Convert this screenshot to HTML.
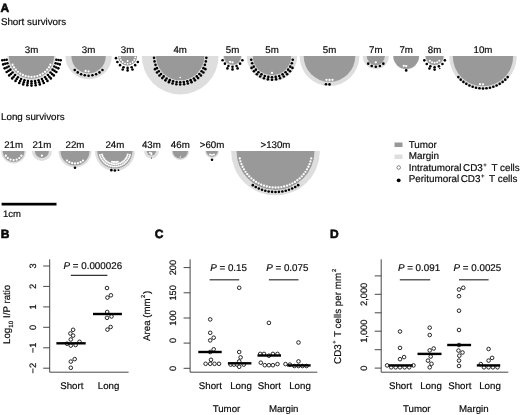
<!DOCTYPE html>
<html lang="en">
<head>
<meta charset="utf-8">
<title>Figure</title>
<style>
html,body{margin:0;padding:0;background:#fff;}
body{width:520px;height:415px;overflow:hidden;}
svg{display:block;}
svg text{text-rendering:geometricPrecision;font-family:"Liberation Sans", Arial, Helvetica, sans-serif;fill:#0a0a0a;stroke:#0a0a0a;stroke-width:0.18px;}
svg text.b{stroke-width:0.6px;}
</style>
</head>
<body>
<svg width="520" height="415" viewBox="0 0 520 415">
<rect width="520" height="415" fill="#ffffff"/>
<g id="panelA">
<text x="0.60" y="12.20" font-size="12" font-weight="bold" class="b">A</text>
<text x="0.90" y="24.70" font-size="9.8">Short survivors</text>
<text x="1.00" y="119.60" font-size="9.8">Long survivors</text>
<path d="M7.30,56.10 A24.20,24.20 0 0 0 55.70,56.10 Z" fill="#dedede"/>
<path d="M8.90,56.10 A22.60,22.60 0 0 0 54.10,56.10 Z" fill="#999999"/>
<circle cx="31.50" cy="76.90" r="1.15" fill="#ffffff"/>
<circle cx="28.54" cy="76.69" r="1.15" fill="#ffffff"/>
<circle cx="34.46" cy="76.69" r="1.15" fill="#ffffff"/>
<circle cx="25.64" cy="76.06" r="1.15" fill="#ffffff"/>
<circle cx="37.36" cy="76.06" r="1.15" fill="#ffffff"/>
<circle cx="22.86" cy="75.02" r="1.15" fill="#ffffff"/>
<circle cx="40.14" cy="75.02" r="1.15" fill="#ffffff"/>
<circle cx="20.26" cy="73.60" r="1.15" fill="#ffffff"/>
<circle cx="42.74" cy="73.60" r="1.15" fill="#ffffff"/>
<circle cx="17.88" cy="71.82" r="1.15" fill="#ffffff"/>
<circle cx="45.12" cy="71.82" r="1.15" fill="#ffffff"/>
<circle cx="15.78" cy="69.72" r="1.15" fill="#ffffff"/>
<circle cx="47.22" cy="69.72" r="1.15" fill="#ffffff"/>
<circle cx="14.00" cy="67.35" r="1.15" fill="#ffffff"/>
<circle cx="49.00" cy="67.35" r="1.15" fill="#ffffff"/>
<circle cx="12.58" cy="64.75" r="1.15" fill="#ffffff"/>
<circle cx="50.42" cy="64.75" r="1.15" fill="#ffffff"/>
<circle cx="31.50" cy="81.20" r="1.3" fill="#000000"/>
<circle cx="27.93" cy="80.94" r="1.3" fill="#000000"/>
<circle cx="35.07" cy="80.94" r="1.3" fill="#000000"/>
<circle cx="24.43" cy="80.18" r="1.3" fill="#000000"/>
<circle cx="38.57" cy="80.18" r="1.3" fill="#000000"/>
<circle cx="21.08" cy="78.93" r="1.3" fill="#000000"/>
<circle cx="41.92" cy="78.93" r="1.3" fill="#000000"/>
<circle cx="17.93" cy="77.22" r="1.3" fill="#000000"/>
<circle cx="45.07" cy="77.22" r="1.3" fill="#000000"/>
<circle cx="15.07" cy="75.07" r="1.3" fill="#000000"/>
<circle cx="47.93" cy="75.07" r="1.3" fill="#000000"/>
<circle cx="12.53" cy="72.54" r="1.3" fill="#000000"/>
<circle cx="50.47" cy="72.54" r="1.3" fill="#000000"/>
<circle cx="10.39" cy="69.67" r="1.3" fill="#000000"/>
<circle cx="52.61" cy="69.67" r="1.3" fill="#000000"/>
<circle cx="8.67" cy="66.53" r="1.3" fill="#000000"/>
<circle cx="54.33" cy="66.53" r="1.3" fill="#000000"/>
<circle cx="7.42" cy="63.18" r="1.3" fill="#000000"/>
<circle cx="55.58" cy="63.18" r="1.3" fill="#000000"/>
<circle cx="6.66" cy="59.68" r="1.3" fill="#000000"/>
<circle cx="56.34" cy="59.68" r="1.3" fill="#000000"/>
<circle cx="31.50" cy="83.40" r="1.3" fill="#000000"/>
<circle cx="27.62" cy="83.12" r="1.3" fill="#000000"/>
<circle cx="35.38" cy="83.12" r="1.3" fill="#000000"/>
<circle cx="23.81" cy="82.29" r="1.3" fill="#000000"/>
<circle cx="39.19" cy="82.29" r="1.3" fill="#000000"/>
<circle cx="20.16" cy="80.93" r="1.3" fill="#000000"/>
<circle cx="42.84" cy="80.93" r="1.3" fill="#000000"/>
<circle cx="16.74" cy="79.07" r="1.3" fill="#000000"/>
<circle cx="46.26" cy="79.07" r="1.3" fill="#000000"/>
<circle cx="13.63" cy="76.73" r="1.3" fill="#000000"/>
<circle cx="49.37" cy="76.73" r="1.3" fill="#000000"/>
<circle cx="10.87" cy="73.98" r="1.3" fill="#000000"/>
<circle cx="52.13" cy="73.98" r="1.3" fill="#000000"/>
<circle cx="8.54" cy="70.86" r="1.3" fill="#000000"/>
<circle cx="54.46" cy="70.86" r="1.3" fill="#000000"/>
<circle cx="6.67" cy="67.45" r="1.3" fill="#000000"/>
<circle cx="56.33" cy="67.45" r="1.3" fill="#000000"/>
<circle cx="5.31" cy="63.80" r="1.3" fill="#000000"/>
<circle cx="57.69" cy="63.80" r="1.3" fill="#000000"/>
<circle cx="4.48" cy="59.99" r="1.3" fill="#000000"/>
<circle cx="58.52" cy="59.99" r="1.3" fill="#000000"/>
<circle cx="31.50" cy="85.60" r="1.3" fill="#000000"/>
<circle cx="27.30" cy="85.30" r="1.3" fill="#000000"/>
<circle cx="35.70" cy="85.30" r="1.3" fill="#000000"/>
<circle cx="23.19" cy="84.41" r="1.3" fill="#000000"/>
<circle cx="39.81" cy="84.41" r="1.3" fill="#000000"/>
<circle cx="19.25" cy="82.94" r="1.3" fill="#000000"/>
<circle cx="43.75" cy="82.94" r="1.3" fill="#000000"/>
<circle cx="15.55" cy="80.92" r="1.3" fill="#000000"/>
<circle cx="47.45" cy="80.92" r="1.3" fill="#000000"/>
<circle cx="12.19" cy="78.40" r="1.3" fill="#000000"/>
<circle cx="50.81" cy="78.40" r="1.3" fill="#000000"/>
<circle cx="9.21" cy="75.42" r="1.3" fill="#000000"/>
<circle cx="53.79" cy="75.42" r="1.3" fill="#000000"/>
<circle cx="6.69" cy="72.05" r="1.3" fill="#000000"/>
<circle cx="56.31" cy="72.05" r="1.3" fill="#000000"/>
<circle cx="4.67" cy="68.36" r="1.3" fill="#000000"/>
<circle cx="58.33" cy="68.36" r="1.3" fill="#000000"/>
<circle cx="3.20" cy="64.42" r="1.3" fill="#000000"/>
<circle cx="59.80" cy="64.42" r="1.3" fill="#000000"/>
<circle cx="2.30" cy="60.31" r="1.3" fill="#000000"/>
<circle cx="60.70" cy="60.31" r="1.3" fill="#000000"/>
<text x="31.50" y="52.60" font-size="9.7" text-anchor="middle">3m</text>
<path d="M65.40,56.10 A23.20,23.20 0 0 0 111.80,56.10 Z" fill="#dedede"/>
<path d="M71.40,56.10 A17.20,17.20 0 0 0 105.80,56.10 Z" fill="#999999"/>
<circle cx="88.60" cy="71.30" r="1.15" fill="#ffffff"/>
<circle cx="85.63" cy="71.01" r="1.15" fill="#ffffff"/>
<circle cx="88.60" cy="75.70" r="1.3" fill="#000000"/>
<circle cx="84.78" cy="75.32" r="1.3" fill="#000000"/>
<circle cx="92.42" cy="75.32" r="1.3" fill="#000000"/>
<circle cx="81.10" cy="74.21" r="1.3" fill="#000000"/>
<circle cx="96.10" cy="74.21" r="1.3" fill="#000000"/>
<circle cx="77.71" cy="72.40" r="1.3" fill="#000000"/>
<circle cx="99.49" cy="72.40" r="1.3" fill="#000000"/>
<circle cx="74.74" cy="69.96" r="1.3" fill="#000000"/>
<circle cx="102.46" cy="69.96" r="1.3" fill="#000000"/>
<text x="88.60" y="52.60" font-size="9.7" text-anchor="middle">3m</text>
<path d="M118.00,56.10 A9.60,9.60 0 0 0 137.20,56.10 Z" fill="#dedede"/>
<path d="M118.10,56.10 A9.50,9.50 0 0 0 137.10,56.10 Z" fill="#999999"/>
<circle cx="127.60" cy="63.80" r="0.9" fill="#ffffff"/>
<circle cx="124.97" cy="63.34" r="0.9" fill="#ffffff"/>
<circle cx="130.23" cy="63.34" r="0.9" fill="#ffffff"/>
<circle cx="122.65" cy="62.00" r="0.9" fill="#ffffff"/>
<circle cx="132.55" cy="62.00" r="0.9" fill="#ffffff"/>
<circle cx="120.93" cy="59.95" r="0.9" fill="#ffffff"/>
<circle cx="134.27" cy="59.95" r="0.9" fill="#ffffff"/>
<circle cx="120.02" cy="57.44" r="0.9" fill="#ffffff"/>
<circle cx="135.18" cy="57.44" r="0.9" fill="#ffffff"/>
<circle cx="127.60" cy="61.10" r="1.0" fill="#ffffff"/>
<circle cx="127.60" cy="67.90" r="1.3" fill="#000000"/>
<circle cx="123.56" cy="67.19" r="1.3" fill="#000000"/>
<circle cx="131.64" cy="67.19" r="1.3" fill="#000000"/>
<circle cx="120.02" cy="65.14" r="1.3" fill="#000000"/>
<circle cx="135.18" cy="65.14" r="1.3" fill="#000000"/>
<circle cx="117.38" cy="62.00" r="1.3" fill="#000000"/>
<circle cx="137.82" cy="62.00" r="1.3" fill="#000000"/>
<circle cx="115.98" cy="58.15" r="1.3" fill="#000000"/>
<circle cx="127.60" cy="70.40" r="1.3" fill="#000000"/>
<circle cx="122.71" cy="69.54" r="1.3" fill="#000000"/>
<circle cx="132.49" cy="69.54" r="1.3" fill="#000000"/>
<text x="127.60" y="52.60" font-size="9.7" text-anchor="middle">3m</text>
<path d="M141.80,56.10 A38.40,38.40 0 0 0 218.60,56.10 Z" fill="#dedede"/>
<path d="M156.00,56.10 A24.20,24.20 0 0 0 204.40,56.10 Z" fill="#999999"/>
<circle cx="180.20" cy="77.50" r="0.8" fill="#ffffff"/>
<circle cx="180.20" cy="82.30" r="1.3" fill="#000000"/>
<circle cx="176.63" cy="82.06" r="1.3" fill="#000000"/>
<circle cx="183.77" cy="82.06" r="1.3" fill="#000000"/>
<circle cx="173.13" cy="81.33" r="1.3" fill="#000000"/>
<circle cx="187.27" cy="81.33" r="1.3" fill="#000000"/>
<circle cx="169.76" cy="80.13" r="1.3" fill="#000000"/>
<circle cx="190.64" cy="80.13" r="1.3" fill="#000000"/>
<circle cx="166.58" cy="78.48" r="1.3" fill="#000000"/>
<circle cx="193.82" cy="78.48" r="1.3" fill="#000000"/>
<circle cx="163.66" cy="76.42" r="1.3" fill="#000000"/>
<circle cx="196.74" cy="76.42" r="1.3" fill="#000000"/>
<circle cx="161.04" cy="73.98" r="1.3" fill="#000000"/>
<circle cx="199.36" cy="73.98" r="1.3" fill="#000000"/>
<circle cx="158.79" cy="71.20" r="1.3" fill="#000000"/>
<circle cx="201.61" cy="71.20" r="1.3" fill="#000000"/>
<circle cx="156.93" cy="68.14" r="1.3" fill="#000000"/>
<circle cx="203.47" cy="68.14" r="1.3" fill="#000000"/>
<circle cx="155.51" cy="64.86" r="1.3" fill="#000000"/>
<circle cx="204.89" cy="64.86" r="1.3" fill="#000000"/>
<circle cx="154.54" cy="61.41" r="1.3" fill="#000000"/>
<circle cx="205.86" cy="61.41" r="1.3" fill="#000000"/>
<circle cx="154.06" cy="57.87" r="1.3" fill="#000000"/>
<circle cx="206.34" cy="57.87" r="1.3" fill="#000000"/>
<circle cx="180.20" cy="84.50" r="1.3" fill="#000000"/>
<circle cx="176.33" cy="84.24" r="1.3" fill="#000000"/>
<circle cx="184.07" cy="84.24" r="1.3" fill="#000000"/>
<circle cx="172.53" cy="83.45" r="1.3" fill="#000000"/>
<circle cx="187.87" cy="83.45" r="1.3" fill="#000000"/>
<circle cx="168.88" cy="82.15" r="1.3" fill="#000000"/>
<circle cx="191.52" cy="82.15" r="1.3" fill="#000000"/>
<circle cx="165.44" cy="80.36" r="1.3" fill="#000000"/>
<circle cx="194.96" cy="80.36" r="1.3" fill="#000000"/>
<circle cx="162.27" cy="78.12" r="1.3" fill="#000000"/>
<circle cx="198.13" cy="78.12" r="1.3" fill="#000000"/>
<circle cx="159.44" cy="75.48" r="1.3" fill="#000000"/>
<circle cx="200.96" cy="75.48" r="1.3" fill="#000000"/>
<circle cx="156.99" cy="72.47" r="1.3" fill="#000000"/>
<circle cx="203.41" cy="72.47" r="1.3" fill="#000000"/>
<circle cx="154.98" cy="69.15" r="1.3" fill="#000000"/>
<circle cx="205.42" cy="69.15" r="1.3" fill="#000000"/>
<text x="180.20" y="52.60" font-size="9.7" text-anchor="middle">4m</text>
<path d="M222.90,56.10 A9.60,9.60 0 0 0 242.10,56.10 Z" fill="#dedede"/>
<path d="M223.80,56.10 A8.70,8.70 0 0 0 241.20,56.10 Z" fill="#999999"/>
<circle cx="232.50" cy="62.30" r="1.15" fill="#ffffff"/>
<circle cx="230.13" cy="61.83" r="1.15" fill="#ffffff"/>
<circle cx="232.50" cy="66.80" r="1.3" fill="#000000"/>
<circle cx="228.41" cy="65.99" r="1.3" fill="#000000"/>
<circle cx="236.59" cy="65.99" r="1.3" fill="#000000"/>
<circle cx="224.93" cy="63.67" r="1.3" fill="#000000"/>
<circle cx="240.07" cy="63.67" r="1.3" fill="#000000"/>
<circle cx="222.61" cy="60.19" r="1.3" fill="#000000"/>
<circle cx="242.39" cy="60.19" r="1.3" fill="#000000"/>
<circle cx="232.50" cy="69.40" r="1.3" fill="#000000"/>
<circle cx="227.41" cy="68.39" r="1.3" fill="#000000"/>
<circle cx="237.59" cy="68.39" r="1.3" fill="#000000"/>
<text x="232.50" y="52.60" font-size="9.7" text-anchor="middle">5m</text>
<path d="M246.80,56.10 A25.20,25.20 0 0 0 297.20,56.10 Z" fill="#dedede"/>
<path d="M252.80,56.10 A19.20,19.20 0 0 0 291.20,56.10 Z" fill="#999999"/>
<circle cx="272.00" cy="72.90" r="1.15" fill="#ffffff"/>
<circle cx="272.00" cy="77.20" r="1.3" fill="#000000"/>
<circle cx="268.34" cy="76.88" r="1.3" fill="#000000"/>
<circle cx="275.66" cy="76.88" r="1.3" fill="#000000"/>
<circle cx="264.78" cy="75.93" r="1.3" fill="#000000"/>
<circle cx="279.22" cy="75.93" r="1.3" fill="#000000"/>
<circle cx="261.45" cy="74.37" r="1.3" fill="#000000"/>
<circle cx="282.55" cy="74.37" r="1.3" fill="#000000"/>
<circle cx="258.44" cy="72.26" r="1.3" fill="#000000"/>
<circle cx="285.56" cy="72.26" r="1.3" fill="#000000"/>
<circle cx="255.84" cy="69.66" r="1.3" fill="#000000"/>
<circle cx="288.16" cy="69.66" r="1.3" fill="#000000"/>
<circle cx="253.73" cy="66.65" r="1.3" fill="#000000"/>
<circle cx="290.27" cy="66.65" r="1.3" fill="#000000"/>
<circle cx="252.17" cy="63.32" r="1.3" fill="#000000"/>
<circle cx="291.83" cy="63.32" r="1.3" fill="#000000"/>
<circle cx="251.22" cy="59.76" r="1.3" fill="#000000"/>
<circle cx="292.78" cy="59.76" r="1.3" fill="#000000"/>
<circle cx="272.00" cy="79.70" r="1.3" fill="#000000"/>
<circle cx="267.90" cy="79.34" r="1.3" fill="#000000"/>
<circle cx="276.10" cy="79.34" r="1.3" fill="#000000"/>
<circle cx="263.93" cy="78.28" r="1.3" fill="#000000"/>
<circle cx="280.07" cy="78.28" r="1.3" fill="#000000"/>
<circle cx="260.20" cy="76.54" r="1.3" fill="#000000"/>
<circle cx="283.80" cy="76.54" r="1.3" fill="#000000"/>
<circle cx="256.83" cy="74.18" r="1.3" fill="#000000"/>
<circle cx="287.17" cy="74.18" r="1.3" fill="#000000"/>
<circle cx="253.92" cy="71.27" r="1.3" fill="#000000"/>
<circle cx="290.08" cy="71.27" r="1.3" fill="#000000"/>
<circle cx="251.56" cy="67.90" r="1.3" fill="#000000"/>
<circle cx="292.44" cy="67.90" r="1.3" fill="#000000"/>
<text x="272.00" y="52.60" font-size="9.7" text-anchor="middle">5m</text>
<path d="M299.60,56.10 A29.90,29.90 0 0 0 359.40,56.10 Z" fill="#dedede"/>
<path d="M303.70,56.10 A25.80,25.80 0 0 0 355.30,56.10 Z" fill="#999999"/>
<circle cx="329.50" cy="80.00" r="1.15" fill="#ffffff"/>
<circle cx="326.50" cy="79.81" r="1.15" fill="#ffffff"/>
<circle cx="332.50" cy="79.81" r="1.15" fill="#ffffff"/>
<circle cx="329.50" cy="84.40" r="1.3" fill="#000000"/>
<circle cx="325.95" cy="84.18" r="1.3" fill="#000000"/>
<text x="329.50" y="52.60" font-size="9.7" text-anchor="middle">5m</text>
<path d="M362.70,56.10 A13.10,13.10 0 0 0 388.90,56.10 Z" fill="#dedede"/>
<path d="M366.70,56.10 A9.10,9.10 0 0 0 384.90,56.10 Z" fill="#999999"/>
<circle cx="375.80" cy="62.30" r="1.15" fill="#ffffff"/>
<circle cx="375.80" cy="66.80" r="1.3" fill="#000000"/>
<circle cx="371.71" cy="65.99" r="1.3" fill="#000000"/>
<circle cx="379.89" cy="65.99" r="1.3" fill="#000000"/>
<circle cx="368.23" cy="63.67" r="1.3" fill="#000000"/>
<circle cx="383.37" cy="63.67" r="1.3" fill="#000000"/>
<text x="375.80" y="52.60" font-size="9.7" text-anchor="middle">7m</text>
<path d="M393.00,56.10 A13.20,13.20 0 0 0 419.40,56.10 Z" fill="#dedede"/>
<path d="M393.40,56.10 A12.80,12.80 0 0 0 419.00,56.10 Z" fill="#999999"/>
<circle cx="406.20" cy="66.10" r="1.15" fill="#ffffff"/>
<circle cx="403.78" cy="65.80" r="1.15" fill="#ffffff"/>
<circle cx="406.20" cy="70.40" r="1.3" fill="#000000"/>
<text x="406.20" y="52.60" font-size="9.7" text-anchor="middle">7m</text>
<path d="M424.80,56.10 A9.80,9.80 0 0 0 444.40,56.10 Z" fill="#dedede"/>
<path d="M425.60,56.10 A9.00,9.00 0 0 0 443.60,56.10 Z" fill="#999999"/>
<circle cx="434.60" cy="62.80" r="1.0" fill="#ffffff"/>
<circle cx="432.04" cy="62.29" r="1.0" fill="#ffffff"/>
<circle cx="437.16" cy="62.29" r="1.0" fill="#ffffff"/>
<circle cx="429.86" cy="60.84" r="1.0" fill="#ffffff"/>
<circle cx="439.34" cy="60.84" r="1.0" fill="#ffffff"/>
<circle cx="434.60" cy="67.20" r="1.3" fill="#000000"/>
<circle cx="430.35" cy="66.36" r="1.3" fill="#000000"/>
<circle cx="438.85" cy="66.36" r="1.3" fill="#000000"/>
<circle cx="426.75" cy="63.95" r="1.3" fill="#000000"/>
<circle cx="442.45" cy="63.95" r="1.3" fill="#000000"/>
<circle cx="424.34" cy="60.35" r="1.3" fill="#000000"/>
<circle cx="444.86" cy="60.35" r="1.3" fill="#000000"/>
<circle cx="434.60" cy="69.60" r="1.3" fill="#000000"/>
<circle cx="429.43" cy="68.57" r="1.3" fill="#000000"/>
<circle cx="439.77" cy="68.57" r="0.7" fill="#000000"/>
<text x="434.60" y="52.60" font-size="9.7" text-anchor="middle">8m</text>
<path d="M449.20,56.10 A33.80,33.80 0 0 0 516.80,56.10 Z" fill="#dedede"/>
<path d="M452.80,56.10 A30.20,30.20 0 0 0 513.20,56.10 Z" fill="#999999"/>
<circle cx="483.00" cy="84.30" r="1.15" fill="#ffffff"/>
<circle cx="479.95" cy="84.14" r="1.15" fill="#ffffff"/>
<circle cx="483.00" cy="88.50" r="1.3" fill="#000000"/>
<circle cx="479.50" cy="88.31" r="1.3" fill="#000000"/>
<circle cx="486.50" cy="88.31" r="1.3" fill="#000000"/>
<circle cx="476.04" cy="87.74" r="1.3" fill="#000000"/>
<circle cx="489.96" cy="87.74" r="1.3" fill="#000000"/>
<circle cx="472.67" cy="86.81" r="1.3" fill="#000000"/>
<circle cx="493.33" cy="86.81" r="1.3" fill="#000000"/>
<circle cx="469.41" cy="85.51" r="1.3" fill="#000000"/>
<circle cx="496.59" cy="85.51" r="1.3" fill="#000000"/>
<circle cx="466.31" cy="83.87" r="1.3" fill="#000000"/>
<circle cx="499.69" cy="83.87" r="1.3" fill="#000000"/>
<circle cx="463.41" cy="81.91" r="1.3" fill="#000000"/>
<circle cx="502.59" cy="81.91" r="1.3" fill="#000000"/>
<circle cx="460.74" cy="79.64" r="1.3" fill="#000000"/>
<circle cx="505.26" cy="79.64" r="1.3" fill="#000000"/>
<circle cx="458.33" cy="77.10" r="1.3" fill="#000000"/>
<circle cx="507.67" cy="77.10" r="1.3" fill="#000000"/>
<text x="483.00" y="52.60" font-size="9.7" text-anchor="middle">10m</text>
<path d="M1.10,151.00 A12.50,12.50 0 0 0 26.10,151.00 Z" fill="#dedede"/>
<path d="M2.80,151.00 A10.80,10.80 0 0 0 24.40,151.00 Z" fill="#999999"/>
<circle cx="13.60" cy="160.10" r="1.15" fill="#ffffff"/>
<circle cx="10.56" cy="159.58" r="1.15" fill="#ffffff"/>
<circle cx="16.64" cy="159.58" r="1.15" fill="#ffffff"/>
<circle cx="7.87" cy="158.07" r="1.15" fill="#ffffff"/>
<circle cx="19.33" cy="158.07" r="1.15" fill="#ffffff"/>
<circle cx="5.84" cy="155.75" r="1.15" fill="#ffffff"/>
<circle cx="21.36" cy="155.75" r="1.15" fill="#ffffff"/>
<text x="13.60" y="147.80" font-size="9.7" text-anchor="middle">21m</text>
<path d="M31.90,151.00 A10.00,10.00 0 0 0 51.90,151.00 Z" fill="#dedede"/>
<path d="M34.90,151.00 A7.00,7.00 0 0 0 48.90,151.00 Z" fill="#999999"/>
<circle cx="41.90" cy="155.60" r="1.15" fill="#ffffff"/>
<text x="41.90" y="147.80" font-size="9.7" text-anchor="middle">21m</text>
<path d="M58.40,151.00 A16.60,16.60 0 0 0 91.60,151.00 Z" fill="#dedede"/>
<path d="M60.50,151.00 A14.50,14.50 0 0 0 89.50,151.00 Z" fill="#999999"/>
<circle cx="75.00" cy="163.50" r="1.15" fill="#ffffff"/>
<circle cx="72.12" cy="163.16" r="1.15" fill="#ffffff"/>
<circle cx="77.88" cy="163.16" r="1.15" fill="#ffffff"/>
<circle cx="69.40" cy="162.18" r="1.15" fill="#ffffff"/>
<circle cx="80.60" cy="162.18" r="1.15" fill="#ffffff"/>
<circle cx="66.98" cy="160.59" r="1.15" fill="#ffffff"/>
<circle cx="83.02" cy="160.59" r="1.15" fill="#ffffff"/>
<circle cx="75.00" cy="167.70" r="1.3" fill="#000000"/>
<text x="75.00" y="147.80" font-size="9.7" text-anchor="middle">22m</text>
<path d="M94.90,151.00 A20.00,20.00 0 0 0 134.90,151.00 Z" fill="#dedede"/>
<path d="M97.30,151.00 A17.60,17.60 0 0 0 132.50,151.00 Z" fill="#999999"/>
<circle cx="114.90" cy="166.60" r="1.02" fill="#ffffff"/>
<circle cx="112.86" cy="166.47" r="1.02" fill="#ffffff"/>
<circle cx="116.94" cy="166.47" r="1.02" fill="#ffffff"/>
<circle cx="110.86" cy="166.07" r="1.02" fill="#ffffff"/>
<circle cx="118.94" cy="166.07" r="1.02" fill="#ffffff"/>
<circle cx="108.93" cy="165.41" r="1.02" fill="#ffffff"/>
<circle cx="120.87" cy="165.41" r="1.02" fill="#ffffff"/>
<circle cx="107.10" cy="164.51" r="1.02" fill="#ffffff"/>
<circle cx="122.70" cy="164.51" r="1.02" fill="#ffffff"/>
<circle cx="105.40" cy="163.38" r="1.02" fill="#ffffff"/>
<circle cx="124.40" cy="163.38" r="1.02" fill="#ffffff"/>
<circle cx="103.87" cy="162.03" r="1.02" fill="#ffffff"/>
<circle cx="125.93" cy="162.03" r="1.02" fill="#ffffff"/>
<circle cx="102.52" cy="160.50" r="1.02" fill="#ffffff"/>
<circle cx="127.28" cy="160.50" r="1.02" fill="#ffffff"/>
<circle cx="101.39" cy="158.80" r="1.02" fill="#ffffff"/>
<circle cx="128.41" cy="158.80" r="1.02" fill="#ffffff"/>
<circle cx="100.49" cy="156.97" r="1.02" fill="#ffffff"/>
<circle cx="129.31" cy="156.97" r="1.02" fill="#ffffff"/>
<circle cx="99.83" cy="155.04" r="1.02" fill="#ffffff"/>
<circle cx="129.97" cy="155.04" r="1.02" fill="#ffffff"/>
<circle cx="114.90" cy="164.30" r="1.02" fill="#ffffff"/>
<circle cx="113.16" cy="164.19" r="1.02" fill="#ffffff"/>
<circle cx="116.64" cy="164.19" r="1.02" fill="#ffffff"/>
<circle cx="111.46" cy="163.85" r="1.02" fill="#ffffff"/>
<circle cx="118.34" cy="163.85" r="1.02" fill="#ffffff"/>
<circle cx="109.81" cy="163.29" r="1.02" fill="#ffffff"/>
<circle cx="119.99" cy="163.29" r="1.02" fill="#ffffff"/>
<circle cx="108.25" cy="162.52" r="1.02" fill="#ffffff"/>
<circle cx="121.55" cy="162.52" r="1.02" fill="#ffffff"/>
<circle cx="106.80" cy="161.55" r="1.02" fill="#ffffff"/>
<circle cx="123.00" cy="161.55" r="1.02" fill="#ffffff"/>
<circle cx="105.50" cy="160.40" r="1.02" fill="#ffffff"/>
<circle cx="124.30" cy="160.40" r="1.02" fill="#ffffff"/>
<circle cx="104.35" cy="159.10" r="1.02" fill="#ffffff"/>
<circle cx="125.45" cy="159.10" r="1.02" fill="#ffffff"/>
<circle cx="103.38" cy="157.65" r="1.02" fill="#ffffff"/>
<circle cx="126.42" cy="157.65" r="1.02" fill="#ffffff"/>
<circle cx="102.61" cy="156.09" r="1.02" fill="#ffffff"/>
<circle cx="127.19" cy="156.09" r="1.02" fill="#ffffff"/>
<circle cx="102.05" cy="154.44" r="1.02" fill="#ffffff"/>
<circle cx="127.75" cy="154.44" r="1.02" fill="#ffffff"/>
<circle cx="114.90" cy="162.10" r="1.02" fill="#ffffff"/>
<circle cx="113.45" cy="162.01" r="1.02" fill="#ffffff"/>
<circle cx="116.35" cy="162.01" r="1.02" fill="#ffffff"/>
<circle cx="112.03" cy="161.72" r="1.02" fill="#ffffff"/>
<circle cx="117.77" cy="161.72" r="1.02" fill="#ffffff"/>
<circle cx="114.90" cy="170.50" r="1.3" fill="#000000"/>
<circle cx="111.35" cy="170.17" r="1.3" fill="#000000"/>
<circle cx="118.45" cy="170.17" r="0.9" fill="#000000"/>
<text x="114.90" y="147.80" font-size="9.7" text-anchor="middle">24m</text>
<path d="M144.00,151.00 A7.40,7.40 0 0 0 158.80,151.00 Z" fill="#dedede"/>
<path d="M146.80,151.00 A4.60,4.60 0 0 0 156.00,151.00 Z" fill="#999999"/>
<circle cx="151.40" cy="153.30" r="1.0" fill="#ffffff"/>
<circle cx="149.98" cy="152.81" r="1.0" fill="#ffffff"/>
<circle cx="151.40" cy="154.30" r="0.9" fill="#ffffff"/>
<circle cx="151.40" cy="157.90" r="0.5" fill="#000000"/>
<text x="151.40" y="147.80" font-size="9.7" text-anchor="middle">43m</text>
<path d="M171.30,151.00 A9.00,9.00 0 0 0 189.30,151.00 Z" fill="#dedede"/>
<path d="M172.70,151.00 A7.60,7.60 0 0 0 187.90,151.00 Z" fill="#999999"/>
<circle cx="180.30" cy="156.90" r="0.7" fill="#ffffff"/>
<text x="180.30" y="147.80" font-size="9.7" text-anchor="middle">46m</text>
<path d="M205.00,151.00 A7.00,7.00 0 0 0 219.00,151.00 Z" fill="#dedede"/>
<path d="M206.20,151.00 A5.80,5.80 0 0 0 217.80,151.00 Z" fill="#999999"/>
<circle cx="212.00" cy="154.90" r="1.0" fill="#ffffff"/>
<circle cx="210.05" cy="154.38" r="1.0" fill="#ffffff"/>
<circle cx="213.95" cy="154.38" r="1.0" fill="#ffffff"/>
<circle cx="212.00" cy="159.70" r="1.3" fill="#000000"/>
<text x="212.00" y="147.80" font-size="9.7" text-anchor="middle">&gt;60m</text>
<path d="M231.10,151.00 A44.40,44.40 0 0 0 319.90,151.00 Z" fill="#dedede"/>
<path d="M236.50,151.00 A39.00,39.00 0 0 0 314.50,151.00 Z" fill="#999999"/>
<circle cx="275.50" cy="187.50" r="1.15" fill="#ffffff"/>
<circle cx="272.57" cy="187.38" r="1.15" fill="#ffffff"/>
<circle cx="278.43" cy="187.38" r="1.15" fill="#ffffff"/>
<circle cx="269.66" cy="187.03" r="1.15" fill="#ffffff"/>
<circle cx="281.34" cy="187.03" r="1.15" fill="#ffffff"/>
<circle cx="266.79" cy="186.45" r="1.15" fill="#ffffff"/>
<circle cx="284.21" cy="186.45" r="1.15" fill="#ffffff"/>
<circle cx="263.98" cy="185.63" r="1.15" fill="#ffffff"/>
<circle cx="287.02" cy="185.63" r="1.15" fill="#ffffff"/>
<circle cx="261.24" cy="184.60" r="1.15" fill="#ffffff"/>
<circle cx="289.76" cy="184.60" r="1.15" fill="#ffffff"/>
<circle cx="258.59" cy="183.35" r="1.15" fill="#ffffff"/>
<circle cx="292.41" cy="183.35" r="1.15" fill="#ffffff"/>
<circle cx="256.05" cy="181.89" r="1.15" fill="#ffffff"/>
<circle cx="294.95" cy="181.89" r="1.15" fill="#ffffff"/>
<circle cx="253.64" cy="180.23" r="1.15" fill="#ffffff"/>
<circle cx="297.36" cy="180.23" r="1.15" fill="#ffffff"/>
<circle cx="251.36" cy="178.38" r="1.15" fill="#ffffff"/>
<circle cx="299.64" cy="178.38" r="1.15" fill="#ffffff"/>
<circle cx="249.24" cy="176.36" r="1.15" fill="#ffffff"/>
<circle cx="301.76" cy="176.36" r="1.15" fill="#ffffff"/>
<circle cx="247.30" cy="174.17" r="1.15" fill="#ffffff"/>
<circle cx="303.70" cy="174.17" r="1.15" fill="#ffffff"/>
<circle cx="245.53" cy="171.83" r="1.15" fill="#ffffff"/>
<circle cx="305.47" cy="171.83" r="1.15" fill="#ffffff"/>
<circle cx="243.95" cy="169.36" r="1.15" fill="#ffffff"/>
<circle cx="307.05" cy="169.36" r="1.15" fill="#ffffff"/>
<circle cx="242.58" cy="166.77" r="1.15" fill="#ffffff"/>
<circle cx="308.42" cy="166.77" r="1.15" fill="#ffffff"/>
<circle cx="241.42" cy="164.08" r="1.15" fill="#ffffff"/>
<circle cx="309.58" cy="164.08" r="1.15" fill="#ffffff"/>
<circle cx="240.49" cy="161.31" r="1.15" fill="#ffffff"/>
<circle cx="310.51" cy="161.31" r="1.15" fill="#ffffff"/>
<circle cx="239.77" cy="158.46" r="1.15" fill="#ffffff"/>
<circle cx="311.23" cy="158.46" r="1.15" fill="#ffffff"/>
<circle cx="275.50" cy="192.00" r="1.3" fill="#000000"/>
<circle cx="272.07" cy="191.86" r="1.3" fill="#000000"/>
<circle cx="278.93" cy="191.86" r="1.3" fill="#000000"/>
<circle cx="268.66" cy="191.43" r="1.3" fill="#000000"/>
<circle cx="282.34" cy="191.43" r="1.3" fill="#000000"/>
<circle cx="265.30" cy="190.71" r="1.3" fill="#000000"/>
<circle cx="285.70" cy="190.71" r="1.3" fill="#000000"/>
<circle cx="262.02" cy="189.72" r="1.3" fill="#000000"/>
<circle cx="288.98" cy="189.72" r="1.3" fill="#000000"/>
<circle cx="258.82" cy="188.46" r="1.3" fill="#000000"/>
<circle cx="292.18" cy="188.46" r="1.3" fill="#000000"/>
<circle cx="255.75" cy="186.93" r="1.3" fill="#000000"/>
<circle cx="295.25" cy="186.93" r="1.3" fill="#000000"/>
<circle cx="252.81" cy="185.15" r="1.3" fill="#000000"/>
<circle cx="298.19" cy="185.15" r="1.3" fill="#000000"/>
<text x="275.50" y="147.80" font-size="9.7" text-anchor="middle">&gt;130m</text>
<rect x="1.6" y="202.8" width="54.9" height="2.7" fill="#000"/>
<text x="3.00" y="217.20" font-size="9.5">1cm</text>
<rect x="394.5" y="142.5" width="8" height="4.5" fill="#999999"/>
<rect x="394.5" y="154.5" width="8" height="4.5" fill="#dedede"/>
<circle cx="398.7" cy="167.5" r="1.8" fill="#fff" stroke="#666" stroke-width="0.8"/>
<circle cx="398.7" cy="180.3" r="1.9" fill="#000"/>
<text x="408.70" y="147.50" font-size="9.9">Tumor</text>
<text x="408.70" y="159.20" font-size="9.9">Margin</text>
<text x="408.70" y="170.90" font-size="9.9">Intratumoral</text>
<text x="463.00" y="170.90" font-size="9.9">CD3</text>
<text x="483.30" y="166.90" font-size="6">+</text>
<text x="491.40" y="170.90" font-size="9.9">T cells</text>
<text x="408.70" y="182.20" font-size="9.9">Peritumoral</text>
<text x="460.70" y="182.20" font-size="9.9">CD3</text>
<text x="481.00" y="178.20" font-size="6">+</text>
<text x="489.10" y="182.20" font-size="9.9">T cells</text>
</g>
<g id="panelB">
<text x="0.80" y="238.20" font-size="12" font-weight="bold" class="b">B</text>
<path d="M49.7,259.3 V372.2 H128.6" fill="none" stroke="#333333" stroke-width="0.9"/>
<line x1="43.2" y1="266.0" x2="49.7" y2="266.0" stroke="#333333" stroke-width="0.9"/>
<text x="35.70" y="265.95" font-size="9.3" text-anchor="middle" transform="rotate(-90 35.70 265.95)">3</text>
<line x1="43.2" y1="286.4" x2="49.7" y2="286.4" stroke="#333333" stroke-width="0.9"/>
<text x="35.70" y="286.40" font-size="9.3" text-anchor="middle" transform="rotate(-90 35.70 286.40)">2</text>
<line x1="43.2" y1="306.9" x2="49.7" y2="306.9" stroke="#333333" stroke-width="0.9"/>
<text x="35.70" y="306.85" font-size="9.3" text-anchor="middle" transform="rotate(-90 35.70 306.85)">1</text>
<line x1="43.2" y1="327.3" x2="49.7" y2="327.3" stroke="#333333" stroke-width="0.9"/>
<text x="35.70" y="327.30" font-size="9.3" text-anchor="middle" transform="rotate(-90 35.70 327.30)">0</text>
<line x1="43.2" y1="347.8" x2="49.7" y2="347.8" stroke="#333333" stroke-width="0.9"/>
<text x="35.70" y="347.75" font-size="9.3" text-anchor="middle" transform="rotate(-90 35.70 347.75)">−1</text>
<line x1="43.2" y1="368.2" x2="49.7" y2="368.2" stroke="#333333" stroke-width="0.9"/>
<text x="35.70" y="368.20" font-size="9.3" text-anchor="middle" transform="rotate(-90 35.70 368.20)">−2</text>
<text x="9.80" y="343.90" font-size="9.7" transform="rotate(-90 9.80 343.90)">Log<tspan font-size="6.2" dy="3.4">10</tspan><tspan dy="-3.4" dx="0.2"> I/P ratio</tspan></text>
<text x="63.50" y="269.30" font-size="9.8"><tspan font-style="italic">P</tspan> = 0.000026</text>
<line x1="70.8" y1="275.4" x2="107.4" y2="275.4" stroke="#333" stroke-width="1.2"/>
<circle cx="73.1" cy="329.8" r="1.8" fill="#fff" stroke="#111" stroke-width="0.9"/>
<circle cx="70.4" cy="333.5" r="1.8" fill="#fff" stroke="#111" stroke-width="0.9"/>
<circle cx="73.1" cy="335.6" r="1.8" fill="#fff" stroke="#111" stroke-width="0.9"/>
<circle cx="70.8" cy="339.5" r="1.8" fill="#fff" stroke="#111" stroke-width="0.9"/>
<circle cx="79.5" cy="341.8" r="1.8" fill="#fff" stroke="#111" stroke-width="0.9"/>
<circle cx="67.0" cy="343.7" r="1.8" fill="#fff" stroke="#111" stroke-width="0.9"/>
<circle cx="70.8" cy="345.6" r="1.8" fill="#fff" stroke="#111" stroke-width="0.9"/>
<circle cx="75.6" cy="345.0" r="1.8" fill="#fff" stroke="#111" stroke-width="0.9"/>
<circle cx="74.7" cy="359.1" r="1.8" fill="#fff" stroke="#111" stroke-width="0.9"/>
<circle cx="70.8" cy="361.6" r="1.8" fill="#fff" stroke="#111" stroke-width="0.9"/>
<circle cx="70.8" cy="367.8" r="1.8" fill="#fff" stroke="#111" stroke-width="0.9"/>
<circle cx="107.0" cy="288.0" r="1.8" fill="#fff" stroke="#111" stroke-width="0.9"/>
<circle cx="110.9" cy="295.3" r="1.8" fill="#fff" stroke="#111" stroke-width="0.9"/>
<circle cx="107.4" cy="297.6" r="1.8" fill="#fff" stroke="#111" stroke-width="0.9"/>
<circle cx="107.2" cy="312.0" r="1.8" fill="#fff" stroke="#111" stroke-width="0.9"/>
<circle cx="111.5" cy="316.4" r="1.8" fill="#fff" stroke="#111" stroke-width="0.9"/>
<circle cx="107.0" cy="317.8" r="1.8" fill="#fff" stroke="#111" stroke-width="0.9"/>
<circle cx="110.6" cy="327.0" r="1.8" fill="#fff" stroke="#111" stroke-width="0.9"/>
<circle cx="107.4" cy="329.6" r="1.8" fill="#fff" stroke="#111" stroke-width="0.9"/>
<line x1="56.4" y1="343.3" x2="85.7" y2="343.3" stroke="#000" stroke-width="2.4"/>
<line x1="93.0" y1="314.0" x2="121.9" y2="314.0" stroke="#000" stroke-width="2.4"/>
<text x="71.80" y="388.60" font-size="9.7" text-anchor="middle">Short</text>
<text x="108.60" y="388.60" font-size="9.7" text-anchor="middle">Long</text>
</g>
<g id="panelC">
<text x="154.80" y="238.20" font-size="12" font-weight="bold" class="b">C</text>
<path d="M190.1,259.4 V372.2 H317.3" fill="none" stroke="#333333" stroke-width="0.9"/>
<line x1="183.6" y1="267.6" x2="190.1" y2="267.6" stroke="#333333" stroke-width="0.9"/>
<text x="176.10" y="267.60" font-size="9.3" text-anchor="middle" transform="rotate(-90 176.10 267.60)">200</text>
<line x1="183.6" y1="292.8" x2="190.1" y2="292.8" stroke="#333333" stroke-width="0.9"/>
<text x="176.10" y="292.78" font-size="9.3" text-anchor="middle" transform="rotate(-90 176.10 292.78)">150</text>
<line x1="183.6" y1="318.0" x2="190.1" y2="318.0" stroke="#333333" stroke-width="0.9"/>
<text x="176.10" y="317.95" font-size="9.3" text-anchor="middle" transform="rotate(-90 176.10 317.95)">100</text>
<line x1="183.6" y1="343.1" x2="190.1" y2="343.1" stroke="#333333" stroke-width="0.9"/>
<line x1="183.6" y1="368.3" x2="190.1" y2="368.3" stroke="#333333" stroke-width="0.9"/>
<text x="176.10" y="368.30" font-size="9.3" text-anchor="middle" transform="rotate(-90 176.10 368.30)">0</text>
<text x="176.10" y="340.52" font-size="9.3" text-anchor="middle" transform="rotate(-90 176.10 340.52)">0</text>
<text x="150.40" y="340.90" font-size="9.7" transform="rotate(-90 150.40 340.90)">Area (mm<tspan font-size="5.8" dy="-5.3" dx="0.5">2</tspan><tspan dy="5.3" dx="0.6">)</tspan></text>
<text x="210.20" y="271.20" font-size="9.8"><tspan font-style="italic">P</tspan> = 0.15</text>
<text x="266.20" y="271.20" font-size="9.8"><tspan font-style="italic">P</tspan> = 0.075</text>
<line x1="209.6" y1="279.8" x2="239.2" y2="279.8" stroke="#333" stroke-width="1.2"/>
<line x1="268.9" y1="279.8" x2="298.5" y2="279.8" stroke="#333" stroke-width="1.2"/>
<circle cx="210.2" cy="319.4" r="1.8" fill="#fff" stroke="#111" stroke-width="0.9"/>
<circle cx="210.2" cy="332.8" r="1.8" fill="#fff" stroke="#111" stroke-width="0.9"/>
<circle cx="213.7" cy="337.7" r="1.8" fill="#fff" stroke="#111" stroke-width="0.9"/>
<circle cx="210.2" cy="340.4" r="1.8" fill="#fff" stroke="#111" stroke-width="0.9"/>
<circle cx="213.7" cy="349.3" r="1.8" fill="#fff" stroke="#111" stroke-width="0.9"/>
<circle cx="210.2" cy="352.0" r="1.8" fill="#fff" stroke="#111" stroke-width="0.9"/>
<circle cx="211.0" cy="359.8" r="1.8" fill="#fff" stroke="#111" stroke-width="0.9"/>
<circle cx="205.6" cy="363.8" r="1.8" fill="#fff" stroke="#111" stroke-width="0.9"/>
<circle cx="210.2" cy="363.8" r="1.8" fill="#fff" stroke="#111" stroke-width="0.9"/>
<circle cx="214.5" cy="363.8" r="1.8" fill="#fff" stroke="#111" stroke-width="0.9"/>
<circle cx="219.0" cy="363.8" r="1.8" fill="#fff" stroke="#111" stroke-width="0.9"/>
<circle cx="239.2" cy="287.8" r="1.8" fill="#fff" stroke="#111" stroke-width="0.9"/>
<circle cx="239.2" cy="352.0" r="1.8" fill="#fff" stroke="#111" stroke-width="0.9"/>
<circle cx="240.6" cy="357.4" r="1.8" fill="#fff" stroke="#111" stroke-width="0.9"/>
<circle cx="239.2" cy="361.4" r="1.8" fill="#fff" stroke="#111" stroke-width="0.9"/>
<circle cx="230.6" cy="364.6" r="1.8" fill="#fff" stroke="#111" stroke-width="0.9"/>
<circle cx="233.9" cy="364.6" r="1.8" fill="#fff" stroke="#111" stroke-width="0.9"/>
<circle cx="237.1" cy="364.6" r="1.8" fill="#fff" stroke="#111" stroke-width="0.9"/>
<circle cx="243.8" cy="364.6" r="1.8" fill="#fff" stroke="#111" stroke-width="0.9"/>
<circle cx="239.2" cy="366.8" r="1.8" fill="#fff" stroke="#111" stroke-width="0.9"/>
<circle cx="268.9" cy="322.9" r="1.8" fill="#fff" stroke="#111" stroke-width="0.9"/>
<circle cx="260.2" cy="353.9" r="1.8" fill="#fff" stroke="#111" stroke-width="0.9"/>
<circle cx="264.0" cy="353.9" r="1.8" fill="#fff" stroke="#111" stroke-width="0.9"/>
<circle cx="272.9" cy="353.9" r="1.8" fill="#fff" stroke="#111" stroke-width="0.9"/>
<circle cx="277.5" cy="353.9" r="1.8" fill="#fff" stroke="#111" stroke-width="0.9"/>
<circle cx="268.9" cy="355.7" r="1.8" fill="#fff" stroke="#111" stroke-width="0.9"/>
<circle cx="260.8" cy="362.7" r="1.8" fill="#fff" stroke="#111" stroke-width="0.9"/>
<circle cx="264.8" cy="365.2" r="1.8" fill="#fff" stroke="#111" stroke-width="0.9"/>
<circle cx="268.9" cy="365.2" r="1.8" fill="#fff" stroke="#111" stroke-width="0.9"/>
<circle cx="272.9" cy="365.2" r="1.8" fill="#fff" stroke="#111" stroke-width="0.9"/>
<circle cx="277.5" cy="364.1" r="1.8" fill="#fff" stroke="#111" stroke-width="0.9"/>
<circle cx="298.5" cy="342.5" r="1.8" fill="#fff" stroke="#111" stroke-width="0.9"/>
<circle cx="298.5" cy="361.4" r="1.8" fill="#fff" stroke="#111" stroke-width="0.9"/>
<circle cx="285.5" cy="364.1" r="1.8" fill="#fff" stroke="#111" stroke-width="0.9"/>
<circle cx="289.9" cy="364.6" r="1.8" fill="#fff" stroke="#111" stroke-width="0.9"/>
<circle cx="294.4" cy="366.0" r="1.8" fill="#fff" stroke="#111" stroke-width="0.9"/>
<circle cx="298.5" cy="366.0" r="1.8" fill="#fff" stroke="#111" stroke-width="0.9"/>
<circle cx="302.5" cy="366.0" r="1.8" fill="#fff" stroke="#111" stroke-width="0.9"/>
<circle cx="306.5" cy="366.0" r="1.8" fill="#fff" stroke="#111" stroke-width="0.9"/>
<line x1="198.3" y1="352.0" x2="221.7" y2="352.0" stroke="#000" stroke-width="2.4"/>
<line x1="227.9" y1="363.3" x2="251.4" y2="363.3" stroke="#000" stroke-width="2.4"/>
<line x1="257.5" y1="355.5" x2="281.0" y2="355.5" stroke="#000" stroke-width="2.4"/>
<line x1="287.2" y1="365.4" x2="310.6" y2="365.4" stroke="#000" stroke-width="2.4"/>
<text x="210.40" y="388.60" font-size="9.7" text-anchor="middle">Short</text>
<text x="241.00" y="388.60" font-size="9.7" text-anchor="middle">Long</text>
<text x="269.40" y="388.60" font-size="9.7" text-anchor="middle">Short</text>
<text x="300.00" y="388.60" font-size="9.7" text-anchor="middle">Long</text>
<text x="226.50" y="412.20" font-size="9.7" text-anchor="middle">Tumor</text>
<text x="283.70" y="412.20" font-size="9.7" text-anchor="middle">Margin</text>
</g>
<g id="panelD">
<text x="330.00" y="238.20" font-size="12" font-weight="bold" class="b">D</text>
<path d="M381.2,259.3 V372.2 H508.3" fill="none" stroke="#333333" stroke-width="0.9"/>
<line x1="374.7" y1="275.9" x2="381.2" y2="275.9" stroke="#333333" stroke-width="0.9"/>
<line x1="374.7" y1="294.3" x2="381.2" y2="294.3" stroke="#333333" stroke-width="0.9"/>
<text x="367.20" y="294.34" font-size="9.3" text-anchor="middle" transform="rotate(-90 367.20 294.34)">2,000</text>
<line x1="374.7" y1="312.8" x2="381.2" y2="312.8" stroke="#333333" stroke-width="0.9"/>
<line x1="374.7" y1="331.2" x2="381.2" y2="331.2" stroke="#333333" stroke-width="0.9"/>
<text x="367.20" y="331.22" font-size="9.3" text-anchor="middle" transform="rotate(-90 367.20 331.22)">1,000</text>
<line x1="374.7" y1="349.7" x2="381.2" y2="349.7" stroke="#333333" stroke-width="0.9"/>
<line x1="374.7" y1="368.1" x2="381.2" y2="368.1" stroke="#333333" stroke-width="0.9"/>
<text x="367.20" y="368.10" font-size="9.3" text-anchor="middle" transform="rotate(-90 367.20 368.10)">0</text>
<text x="341.50" y="363.90" font-size="9.8" transform="rotate(-90 341.50 363.90)">CD3<tspan font-size="5.5" dy="-5.5" dx="0.6">+</tspan><tspan dy="5.5" dx="3.5">T cells per mm</tspan><tspan font-size="5.8" dy="-5.5" dx="0.8">2</tspan></text>
<text x="397.90" y="271.20" font-size="9.8"><tspan font-style="italic">P</tspan> = 0.091</text>
<text x="453.60" y="271.20" font-size="9.8"><tspan font-style="italic">P</tspan> = 0.0025</text>
<line x1="399.8" y1="279.8" x2="430.2" y2="279.8" stroke="#333" stroke-width="1.2"/>
<line x1="459.0" y1="279.8" x2="488.6" y2="279.8" stroke="#333" stroke-width="1.2"/>
<circle cx="400.0" cy="331.5" r="1.8" fill="#fff" stroke="#111" stroke-width="0.9"/>
<circle cx="400.0" cy="347.9" r="1.8" fill="#fff" stroke="#111" stroke-width="0.9"/>
<circle cx="404.1" cy="357.1" r="1.8" fill="#fff" stroke="#111" stroke-width="0.9"/>
<circle cx="400.0" cy="359.2" r="1.8" fill="#fff" stroke="#111" stroke-width="0.9"/>
<circle cx="387.1" cy="365.4" r="1.8" fill="#fff" stroke="#111" stroke-width="0.9"/>
<circle cx="413.5" cy="365.4" r="1.8" fill="#fff" stroke="#111" stroke-width="0.9"/>
<circle cx="391.2" cy="367.3" r="1.8" fill="#fff" stroke="#111" stroke-width="0.9"/>
<circle cx="395.7" cy="367.3" r="1.8" fill="#fff" stroke="#111" stroke-width="0.9"/>
<circle cx="400.0" cy="367.3" r="1.8" fill="#fff" stroke="#111" stroke-width="0.9"/>
<circle cx="404.6" cy="367.3" r="1.8" fill="#fff" stroke="#111" stroke-width="0.9"/>
<circle cx="409.2" cy="367.3" r="1.8" fill="#fff" stroke="#111" stroke-width="0.9"/>
<circle cx="429.7" cy="327.7" r="1.8" fill="#fff" stroke="#111" stroke-width="0.9"/>
<circle cx="429.7" cy="335.0" r="1.8" fill="#fff" stroke="#111" stroke-width="0.9"/>
<circle cx="433.7" cy="348.5" r="1.8" fill="#fff" stroke="#111" stroke-width="0.9"/>
<circle cx="429.7" cy="350.4" r="1.8" fill="#fff" stroke="#111" stroke-width="0.9"/>
<circle cx="430.7" cy="356.5" r="1.8" fill="#fff" stroke="#111" stroke-width="0.9"/>
<circle cx="428.0" cy="360.6" r="1.8" fill="#fff" stroke="#111" stroke-width="0.9"/>
<circle cx="431.5" cy="363.8" r="1.8" fill="#fff" stroke="#111" stroke-width="0.9"/>
<circle cx="429.7" cy="367.3" r="1.8" fill="#fff" stroke="#111" stroke-width="0.9"/>
<circle cx="459.0" cy="289.5" r="1.8" fill="#fff" stroke="#111" stroke-width="0.9"/>
<circle cx="463.3" cy="287.8" r="1.8" fill="#fff" stroke="#111" stroke-width="0.9"/>
<circle cx="459.0" cy="296.2" r="1.8" fill="#fff" stroke="#111" stroke-width="0.9"/>
<circle cx="459.0" cy="310.7" r="1.8" fill="#fff" stroke="#111" stroke-width="0.9"/>
<circle cx="459.0" cy="330.0" r="1.8" fill="#fff" stroke="#111" stroke-width="0.9"/>
<circle cx="459.0" cy="345.0" r="1.8" fill="#fff" stroke="#111" stroke-width="0.9"/>
<circle cx="458.5" cy="350.6" r="1.8" fill="#fff" stroke="#111" stroke-width="0.9"/>
<circle cx="462.5" cy="352.5" r="1.8" fill="#fff" stroke="#111" stroke-width="0.9"/>
<circle cx="459.3" cy="355.7" r="1.8" fill="#fff" stroke="#111" stroke-width="0.9"/>
<circle cx="459.0" cy="360.6" r="1.8" fill="#fff" stroke="#111" stroke-width="0.9"/>
<circle cx="459.0" cy="366.0" r="1.8" fill="#fff" stroke="#111" stroke-width="0.9"/>
<circle cx="488.6" cy="349.0" r="1.8" fill="#fff" stroke="#111" stroke-width="0.9"/>
<circle cx="492.1" cy="357.9" r="1.8" fill="#fff" stroke="#111" stroke-width="0.9"/>
<circle cx="488.6" cy="360.6" r="1.8" fill="#fff" stroke="#111" stroke-width="0.9"/>
<circle cx="480.8" cy="364.1" r="1.8" fill="#fff" stroke="#111" stroke-width="0.9"/>
<circle cx="484.0" cy="367.3" r="1.8" fill="#fff" stroke="#111" stroke-width="0.9"/>
<circle cx="488.6" cy="367.3" r="1.8" fill="#fff" stroke="#111" stroke-width="0.9"/>
<circle cx="492.9" cy="367.3" r="1.8" fill="#fff" stroke="#111" stroke-width="0.9"/>
<circle cx="497.5" cy="367.3" r="1.8" fill="#fff" stroke="#111" stroke-width="0.9"/>
<line x1="388.5" y1="365.4" x2="412.7" y2="365.4" stroke="#000" stroke-width="2.4"/>
<line x1="417.5" y1="353.9" x2="441.5" y2="353.9" stroke="#000" stroke-width="2.4"/>
<line x1="447.2" y1="345.0" x2="471.1" y2="345.0" stroke="#000" stroke-width="2.4"/>
<line x1="476.8" y1="365.4" x2="500.2" y2="365.4" stroke="#000" stroke-width="2.4"/>
<text x="400.60" y="388.60" font-size="9.7" text-anchor="middle">Short</text>
<text x="431.00" y="388.60" font-size="9.7" text-anchor="middle">Long</text>
<text x="459.80" y="388.60" font-size="9.7" text-anchor="middle">Short</text>
<text x="490.00" y="388.60" font-size="9.7" text-anchor="middle">Long</text>
<text x="416.80" y="412.20" font-size="9.7" text-anchor="middle">Tumor</text>
<text x="473.80" y="412.20" font-size="9.7" text-anchor="middle">Margin</text>
</g>
</svg>
</body>
</html>
